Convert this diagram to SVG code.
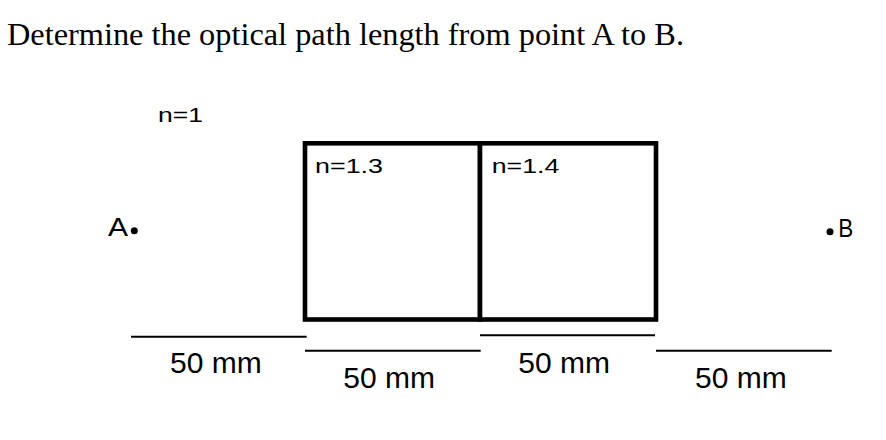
<svg xmlns="http://www.w3.org/2000/svg" width="886" height="440" viewBox="0 0 886 440">
<style>
.title{font-family:"Liberation Serif","Times New Roman",serif;font-size:32px;fill:#000}
.lbl{font-family:"Liberation Sans",Arial,sans-serif;font-size:21px;fill:#000}
.pt{font-family:"Liberation Sans",Arial,sans-serif;font-size:26px;fill:#000}
.dim{font-family:"Liberation Sans",Arial,sans-serif;font-size:30px;fill:#000}
.box{fill:#fff;stroke:#000;stroke-width:4.6}
.dl{stroke:#000;stroke-width:2;fill:none}
</style>
<rect width="886" height="440" fill="#fff"/>
<text class="title" x="7" y="45" textLength="677" lengthAdjust="spacingAndGlyphs">Determine the optical path length from point A to B.</text>
<text class="lbl" x="158" y="122" textLength="45" lengthAdjust="spacingAndGlyphs">n=1</text>
<g id="pointA">
<text class="pt" x="108" y="236" textLength="20" lengthAdjust="spacingAndGlyphs">A</text>
<circle cx="134.3" cy="230.7" r="3.5" fill="#000"/>
</g>
<g id="pointB">
<circle cx="830" cy="231.7" r="3.5" fill="#000"/>
<text class="pt" x="838.3" y="237.3" textLength="15" lengthAdjust="spacingAndGlyphs">B</text>
</g>
<g id="medium1">
<rect class="box" x="305" y="143.3" width="175" height="176.2"/>
<text class="lbl" x="315" y="173.3" textLength="68" lengthAdjust="spacingAndGlyphs">n=1.3</text>
</g>
<g id="medium2">
<rect class="box" x="480" y="143.3" width="176" height="176.2"/>
<text class="lbl" x="491.7" y="172.7" textLength="67.6" lengthAdjust="spacingAndGlyphs">n=1.4</text>
</g>
<g id="dimensions">
<line class="dl" x1="131" y1="336.7" x2="306.7" y2="336.7"/>
<line class="dl" x1="305" y1="350.7" x2="480.7" y2="350.7"/>
<line class="dl" x1="480" y1="335.3" x2="655" y2="335.3"/>
<line class="dl" x1="656" y1="350.7" x2="831.7" y2="350.7"/>
</g>
<text class="dim" x="170" y="373.3">50 mm</text>
<text class="dim" x="343.3" y="388.3">50 mm</text>
<text class="dim" x="518.3" y="373.3">50 mm</text>
<text class="dim" x="695" y="388.3">50 mm</text>
</svg>
